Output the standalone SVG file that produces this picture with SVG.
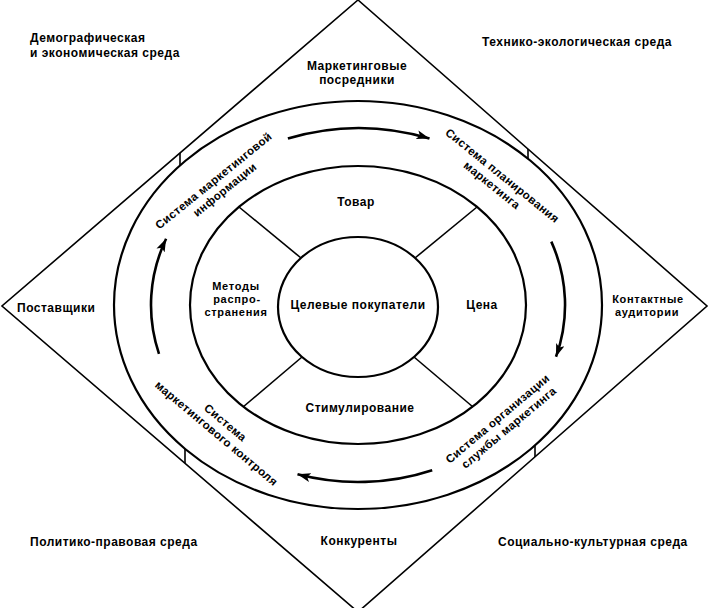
<svg xmlns="http://www.w3.org/2000/svg" width="710" height="608" viewBox="0 0 710 608">
  <style>
    text { font-family: "Liberation Sans", Arial, sans-serif; font-weight: bold; fill: #000; }
    .h { font-size: 12px; letter-spacing: 0.5px; }
    .s { font-size: 11px; letter-spacing: 0.7px; }
    .r { font-size: 11.5px; letter-spacing: 0.4px; }
    .c { text-anchor: middle; }
    .ring { fill: none; stroke: #000; stroke-width: 2.2; }
    .thin { fill: none; stroke: #000; stroke-width: 1.6; }
    .arrow { fill: none; stroke: #000; stroke-width: 2.6; marker-end: url(#ah); }
  </style>
  <defs>
    <marker id="ah" markerUnits="userSpaceOnUse" markerWidth="14" markerHeight="9" refX="13" refY="4.5" orient="auto">
      <path d="M0,0 L13,4.5 L0,9 L3,4.5 z" fill="#000"/>
    </marker>
  </defs>
  <rect x="0" y="0" width="710" height="608" fill="#fff"/>

  <g id="environment">
    <path class="thin" d="M358,0 L707,306 L358,612 L2,306 Z"/>
    <g id="ticks">
      <line class="thin" x1="180" y1="153" x2="180" y2="165"/>
      <line class="thin" x1="528" y1="149" x2="528" y2="159"/>
      <line class="thin" x1="185" y1="449" x2="185" y2="463"/>
      <line class="thin" x1="535" y1="445" x2="535" y2="457"/>
    </g>
  </g>

  <g id="env-demo">
    <text class="h" x="30" y="42">Демографическая</text>
    <text class="h" x="30" y="57">и экономическая среда</text>
  </g>
  <g id="env-tech">
    <text class="h" x="482" y="46">Технико-экологическая среда</text>
  </g>
  <g id="env-polit">
    <text class="h" x="30" y="546">Политико-правовая среда</text>
  </g>
  <g id="env-social">
    <text class="h" x="498" y="546">Социально-культурная среда</text>
  </g>

  <g id="intermediaries">
    <text class="h c" x="357" y="70">Маркетинговые</text>
    <text class="h c" x="357" y="84">посредники</text>
  </g>
  <g id="suppliers">
    <text class="h" x="17" y="312">Поставщики</text>
  </g>
  <g id="audiences">
    <text class="s c" x="648" y="303">Контактные</text>
    <text class="s c" x="647" y="316">аудитории</text>
  </g>
  <g id="competitors">
    <text class="h c" x="359" y="545">Конкуренты</text>
  </g>

  <g id="outer-ring">
    <ellipse class="ring" cx="358" cy="305" rx="244" ry="204"/>
  </g>

  <g id="info-system" transform="translate(218,186) rotate(-39)">
    <text class="r c" x="0" y="-3">Система маркетинговой</text>
    <text class="r c" x="3" y="11">информации</text>
  </g>
  <g id="planning-system" transform="translate(498,181) rotate(39)">
    <text class="r c" x="0" y="-3">Система планирования</text>
    <text class="r c" x="-2" y="11">маркетинга</text>
  </g>
  <g id="organization-system" transform="translate(502,424) rotate(-40)">
    <text class="r c" x="0" y="-3">Система организации</text>
    <text class="r c" x="3" y="11">службы маркетинга</text>
  </g>
  <g id="control-system" transform="translate(221,428) rotate(40)">
    <text class="r c" x="0" y="-3">Система</text>
    <text class="r c" x="0" y="11">маркетингового контроля</text>
  </g>

  <g id="marketing-mix">
    <ellipse class="ring" cx="358" cy="305" rx="168" ry="139"/>
    <line class="thin" x1="239" y1="207" x2="301" y2="258"/>
    <line class="thin" x1="477" y1="207" x2="415" y2="258"/>
    <line class="thin" x1="243" y1="407" x2="302" y2="357"/>
    <line class="thin" x1="473" y1="407" x2="414" y2="357"/>
  </g>
  <g id="product">
    <text class="h c" x="356" y="206">Товар</text>
  </g>
  <g id="price">
    <text class="h c" x="482" y="309">Цена</text>
  </g>
  <g id="promotion">
    <text class="h c" x="360" y="412">Стимулирование</text>
  </g>
  <g id="distribution">
    <text class="s c" x="236" y="290">Методы</text>
    <text class="s c" x="237" y="303">распро-</text>
    <text class="s c" x="236" y="316">странения</text>
  </g>

  <g id="target-customers">
    <ellipse class="ring" cx="358" cy="307" rx="80" ry="70"/>
    <text class="h c" x="358" y="309">Целевые покупатели</text>
  </g>

  <g id="connectors">
    <path class="arrow" d="M287.9,138.6 A207,177 0 0 1 429.5,138.6"/>
    <path class="arrow" d="M551.3,241.6 A207,177 0 0 1 556,356.8"/>
    <path class="arrow" d="M432.2,470.2 A207,177 0 0 1 297.5,474.3"/>
    <path class="arrow" d="M159,353.8 A207,177 0 0 1 166.1,238.7"/>
  </g>
</svg>
